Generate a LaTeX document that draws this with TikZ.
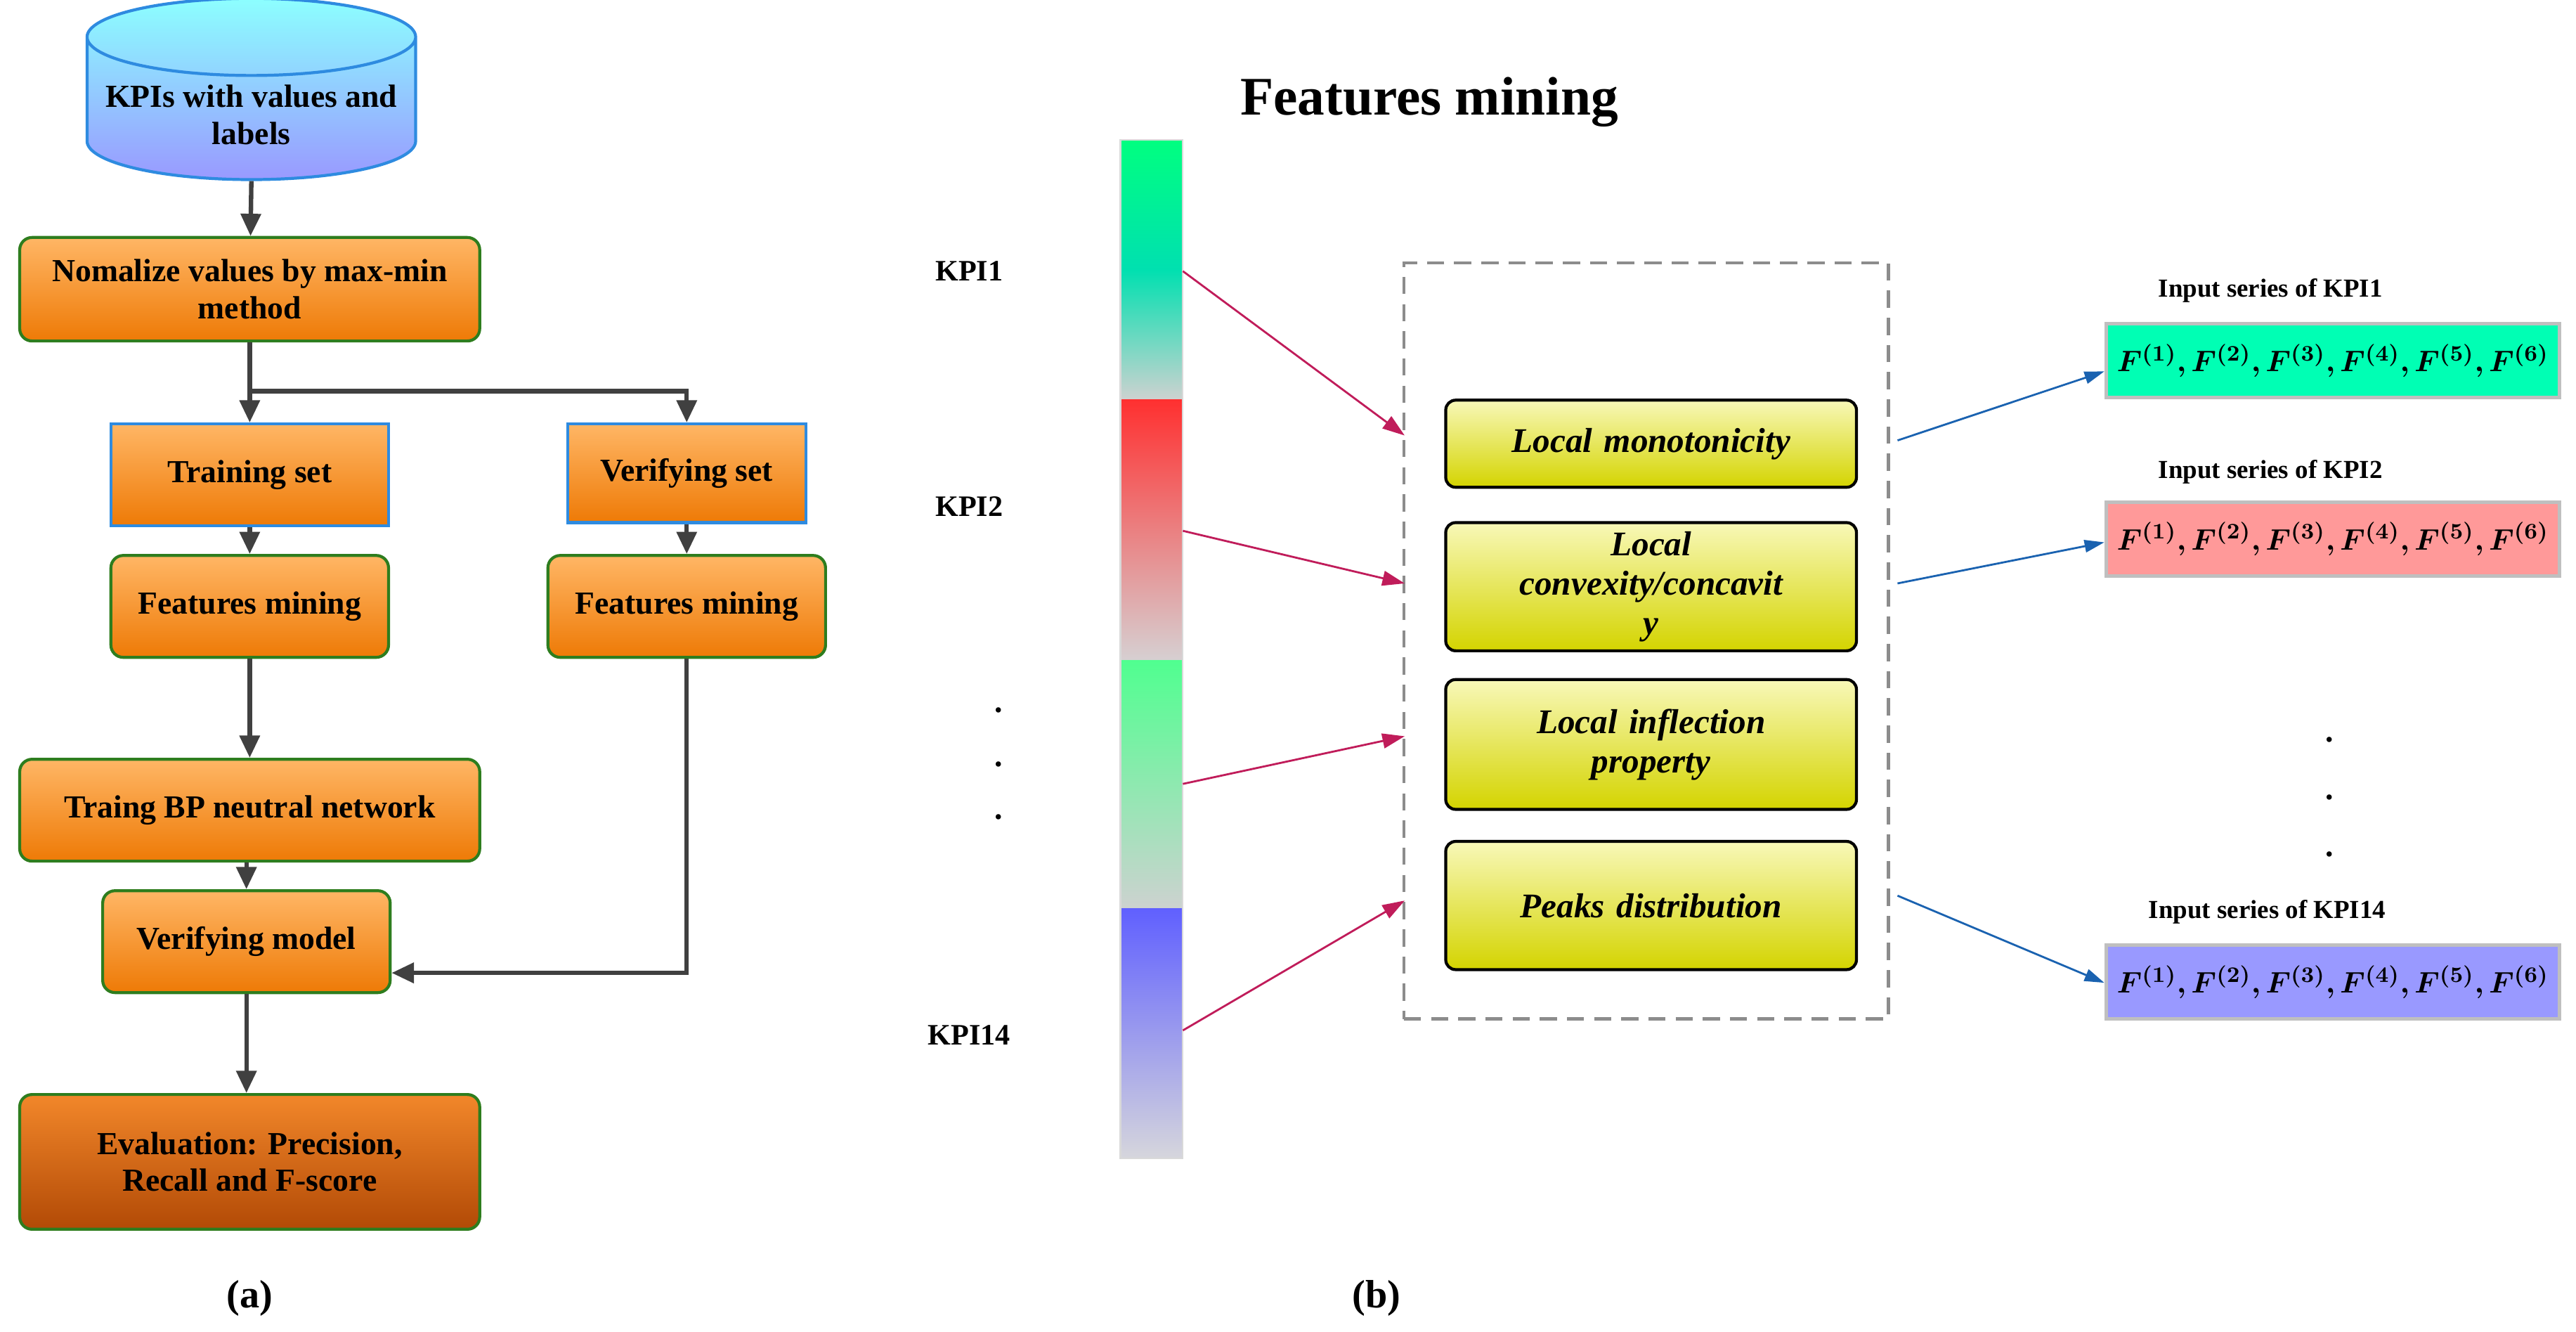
\documentclass[tikz,border=0pt]{standalone}
\usepackage{fontspec}
\usepackage{amsmath,bm}
\setmainfont{Liberation Serif}
\newfontfamily\myserif{Liberation Serif}
\usetikzlibrary{shapes.geometric,arrows.meta,positioning}
\def\U{0.02338cm}
\definecolor{ob1}{HTML}{FFB665}\definecolor{ob2}{HTML}{EE7A06}
\definecolor{ev1}{HTML}{F2872A}\definecolor{ev2}{HTML}{B24A06}
\definecolor{gb}{HTML}{2E7D1E}\definecolor{bb}{HTML}{2E8BE0}
\definecolor{ya}{HTML}{F8F8B8}\definecolor{yb}{HTML}{D4D400}
\definecolor{pk}{HTML}{C01C5A}\definecolor{bl}{HTML}{1A62B0}
\definecolor{ar}{HTML}{404040}
\begin{document}
\begin{tikzpicture}[x=\U,y=-\U,
  font=\myserif\bfseries\fontsize{13}{15}\selectfont,
  obox/.style={draw=gb,line width=1.2pt,rounded corners=5pt,top color=ob1,bottom color=ob2,align=center,inner sep=2pt},
  sbox/.style={draw=bb,line width=1.2pt,top color=ob1,bottom color=ob2,align=center},
  ybox/.style={draw=black,line width=1.2pt,rounded corners=4pt,top color=ya,bottom color=yb,align=center,
     minimum width=250*\U,text width=230*\U,font=\myserif\bfseries\itshape\fontsize{14}{16}\selectfont},
  flow/.style={ar,line width=1.8pt,-{Triangle[length=9pt,width=8pt]}},
  parr/.style={pk,line width=0.8pt,-{Triangle[length=9pt,width=6pt]}},
  barr/.style={bl,line width=0.8pt,-{Triangle[length=8pt,width=5pt]}},
  ser/.style={draw=black!25,line width=1.5pt,minimum width=276*\U,minimum height=45*\U,font=\fontsize{13}{15}\selectfont},
  lab/.style={font=\myserif\bfseries\fontsize{10.5}{12}\selectfont},
  kpi/.style={font=\myserif\bfseries\fontsize{12}{13}\selectfont}]
\useasboundingbox (0,0) rectangle (1568,810.5);
% ---------- (a)
\node[cylinder,shape border rotate=90,aspect=0.25,draw=bb,line width=1.2pt,top color=cyan!45!white,bottom color=blue!40!white,
  minimum width=200*\U,minimum height=104*\U,align=center] (kpis) at (153,70) {KPIs with values and\\labels};
\node[obox,minimum width=280*\U,minimum height=63*\U] (norm) at (152,176) {Nomalize values by max-min\\method};
\node[sbox,minimum width=169*\U,minimum height=62*\U] (train) at (152,289) {Training set};
\node[sbox,minimum width=145*\U,minimum height=60*\U] (verif) at (418,288) {Verifying set};
\node[obox,minimum width=169*\U,minimum height=62*\U] (fm1) at (152,369) {Features mining};
\node[obox,minimum width=169*\U,minimum height=62*\U] (fm2) at (418,369) {Features mining};
\node[obox,minimum width=280*\U,minimum height=62*\U] (bp) at (152,493) {Traing BP neutral network};
\node[obox,minimum width=175*\U,minimum height=62*\U] (vm) at (150,573) {Verifying model};
\node[obox,top color=ev1,bottom color=ev2,minimum width=280*\U,minimum height=82*\U] (ev) at (152,707) {Evaluation: Precision,\\Recall and F-score};
\coordinate (split) at (152,238);
\coordinate (vmin) at (vm.east|-0,592);
\draw[flow] (kpis.south) -- (norm);
\draw[ar,line width=1.8pt] (norm) -- (split);
\draw[flow] (split) -- (train);
\draw[flow] (split) -| (verif);
\draw[flow] (train) -- (fm1);
\draw[flow] (verif) -- (fm2);
\draw[flow] (fm1) -- (bp);
\draw[flow] (bp.south-|vm) -- (vm);
\draw[flow] (vm) -- (ev.north-|vm);
\draw[flow] (fm2.south) |- (vmin);
\node[font=\myserif\bfseries\fontsize{16}{18}\selectfont] (la) at (152,790) {(a)};
% ---------- (b)
\node[font=\myserif\bfseries\fontsize{22}{24}\selectfont] (title) at (870,62) {Features mining};
\shade[top color={rgb,255:red,0;green,255;blue,128},bottom color={rgb,255:red,0;green,224;blue,176}] (682,85) rectangle (720,164);
\shade[top color={rgb,255:red,0;green,224;blue,176},bottom color={rgb,255:red,205;green,210;blue,208}] (682,164) rectangle (720,243);
\shade[top color={rgb,255:red,255;green,48;blue,48},bottom color={rgb,255:red,214;green,208;blue,210}] (682,243) rectangle (720,402);
\shade[top color={rgb,255:red,80;green,255;blue,144},bottom color={rgb,255:red,205;green,210;blue,208}] (682,402) rectangle (720,553);
\shade[top color={rgb,255:red,96;green,96;blue,255},bottom color={rgb,255:red,214;green,214;blue,220}] (682,553) rectangle (720,705);
\node[draw=black!15,line width=0.6pt,inner sep=0,minimum width=38*\U,minimum height=620*\U] (bar) at (701,395) {};
\coordinate (b1) at (720,165); \coordinate (b2) at (720,323);
\coordinate (b3) at (720,477); \coordinate (b4) at (720,627);
\node[kpi] (k1) at (590,165) {KPI1};
\node[kpi] (k2) at (590,308) {KPI2};
\node[kpi] (k14) at (590,630) {KPI14};
\foreach \yy/\nm in {432/d1,465/d2,497/d3}{\node[inner sep=0] (\nm) at (608,\yy) {.};}
\node[draw=black!45,line width=1.2pt,dash pattern=on 7pt off 4pt,minimum width=295*\U,minimum height=460*\U] (dbox) at (1002,390) {};
\node[ybox,minimum height=53*\U] (y1) at (1005,270) {Local monotonicity};
\node[ybox,minimum height=78*\U] (y2) at (1005,357) {Local\\convexity/concavit\\y};
\node[ybox,minimum height=79*\U] (y3) at (1005,453) {Local inflection\\property};
\node[ybox,minimum height=78*\U] (y4) at (1005,551) {Peaks distribution};
\coordinate (t1) at (855,265); \coordinate (t2) at (855,355);
\coordinate (t3) at (855,448); \coordinate (t4) at (855,548);
\draw[parr] (b1) -- (t1); \draw[parr] (b2) -- (t2);
\draw[parr] (b3) -- (t3); \draw[parr] (b4) -- (t4);
\def\FF{$\bm{F^{(1)},F^{(2)},F^{(3)},F^{(4)},F^{(5)},F^{(6)}}$}
\node[ser,fill={rgb,255:red,0;green,255;blue,180}] (s1) at (1420,219.5) {\FF};
\node[ser,fill={rgb,255:red,255;green,153;blue,153}] (s2) at (1420,328) {\FF};
\node[ser,fill={rgb,255:red,153;green,153;blue,255}] (s14) at (1420,597.5) {\FF};
\node[lab] (l1) at (1382,177) {Input series of KPI1};
\node[lab] (l2) at (1382,287) {Input series of KPI2};
\node[lab] (l14) at (1380,555) {Input series of KPI14};
\foreach \yy/\nm in {450/e1,485/e2,520/e3}{\node[inner sep=0] (\nm) at (1418,\yy) {.};}
\coordinate (o1) at (1155,268); \coordinate (o2) at (1155,355); \coordinate (o4) at (1155,545);
\draw[barr] (o1) -- (s1.west|-0,226);
\draw[barr] (o2) -- (s2.west|-0,330);
\draw[barr] (o4) -- (s14.west|-0,598);
\node[font=\myserif\bfseries\fontsize{16}{18}\selectfont] (lb) at (838,790) {(b)};
\end{tikzpicture}
\end{document}
